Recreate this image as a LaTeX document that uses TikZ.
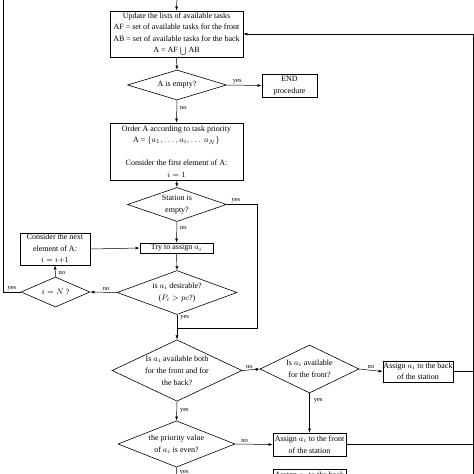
\documentclass[tikz,border=0pt]{standalone}
\usepackage{fontspec}
\setmainfont{Liberation Serif}
\usetikzlibrary{shapes.geometric,arrows.meta}
\begin{document}
\begin{tikzpicture}[x=1pt, y=-1pt, line width=0.5pt, >={Latex[length=4pt,width=3pt]},
  box/.style={draw, line width=0.9pt, align=center, inner sep=0pt, font=\fontsize{8}{11.5}\selectfont},
  dia/.style={draw, diamond, line width=0.6pt, align=center, inner sep=0pt, aspect=2, font=\fontsize{8}{12}\selectfont},
  lbl/.style={font=\fontsize{6.5}{7}\selectfont, inner sep=1pt}]
\useasboundingbox (0,0) rectangle (474,474);

\node[box, minimum width=133pt, minimum height=46pt] (upd) at (176.5,34) {Update the lists of available tasks\\AF = set of available tasks for the front\\AB = set of available tasks for the back\\A = AF \scalebox{0.8}{$\bigcup$} AB};
\node[dia, minimum width=99pt, minimum height=30pt] (empA) at (177,85) {A is empty?};
\node[box, minimum width=55pt, minimum height=23pt] (endp) at (289.5,85.5) {END\\procedure};
\node[box, minimum width=133pt, minimum height=57pt] (ord) at (176.5,151.5) {Order A according to task priority\\A = $\{a_1, \ldots, a_i, \ldots\ a_N\}$\\[11.5pt]Consider the first element of A:\\$i = 1$};
\node[dia, minimum width=99pt, minimum height=31pt] (stat) at (177,204.5) {Station is\\empty?};
\node[box, minimum width=70pt, minimum height=32pt] (next) at (55,249) {Consider the next\\element of A:\\$i = i{+}1$};
\node[box, minimum width=73pt, minimum height=10pt] (try) at (176.5,248) {Try to assign $a_i$};
\node[dia, minimum width=120pt, minimum height=39pt] (des) at (177,292.5) {is $a_i$ desirable?\\($P_i > pc$?)};
\node[dia, minimum width=69pt, minimum height=30pt] (iN) at (55.5,292) {$i = N$ ?};
\node[dia, minimum width=130pt, minimum height=61pt] (both) at (177,370.5) {Is $a_i$ available both\\for the front and for\\the back?};
\node[dia, minimum width=99pt, minimum height=48pt] (front) at (309.5,369) {Is $a_i$ available\\for the front?};
\node[box, minimum width=70pt, minimum height=21pt] (aback) at (418,371.5) {Assign $a_i$ to the back\\of the station};
\node[dia, minimum width=117pt, minimum height=46pt] (even) at (176.5,444) {the priority value\\of $a_i$ is even?};
\node[box, minimum width=73pt, minimum height=23pt] (afront) at (309.5,444.5) {Assign $a_i$ to the front\\of the station};
\node[box, minimum width=73pt, minimum height=23pt] (aback2) at (309.5,480.5) {Assign $a_i$ to the back\\of the station};

\coordinate (intop) at (177,-5);
\coordinate (ltop) at (3,-5);
\coordinate (rbot) at (473,490);
\coordinate (sj) at (257,328);
\coordinate (jn) at (177,328);
\coordinate (ebot) at (177,490);

\draw[->] (intop) -- (upd.north);
\draw[->] (upd.south) -- (empA.north);
\draw[->] (empA.east) -- node[lbl, above, pos=0.3] {yes} (endp.west);
\draw[->] (empA.south) -- node[lbl, right, pos=0.35, xshift=2pt] {no} (ord.north);
\draw[->] (ord.south) -- (stat.north);
\draw (stat.east) -| node[lbl, above, pos=0.15] {yes} (sj) -- (jn);
\draw[->] (stat.south) -- node[lbl, right, pos=0.3, xshift=2pt] {no} (try.north);
\draw[->] (try.south) -- (des.north);
\draw[->] (des.west) -- node[lbl, above, pos=0.4] {no} (iN.east);
\draw[->] (iN.north) -- node[lbl, right, pos=0.35, xshift=2pt] {no} (next.south);
\draw[->] (next.east) -- (try.west);
\draw (iN.west) -| node[lbl, above, pos=0.25] {yes} (ltop);
\draw (des.south) -- node[lbl, right, pos=0.25, xshift=2pt] {yes} (jn);
\draw[->] (jn) -- (both.north);
\draw[->] (both.east) -- node[lbl, above, pos=0.4] {no} (front.west);
\draw[->] (front.east) -- node[lbl, above] {no} (aback.west);
\draw[->] (front.south) -- node[lbl, right, pos=0.2, xshift=3pt] {yes} (afront.north);
\draw[->] (both.south) -- node[lbl, right, pos=0.5, xshift=2pt] {yes} (even.north);
\draw[->] (even.east) -- node[lbl, above, pos=0.25] {no} (afront.west);
\draw (even.south) -- node[lbl, right, pos=0.25, xshift=2pt] {yes} (ebot);

\draw[->] (rbot) |- (upd.east);
\draw (aback.east) -- (aback.east -| rbot);
\draw (afront.east) -- (afront.east -| rbot);
\end{tikzpicture}
\end{document}
